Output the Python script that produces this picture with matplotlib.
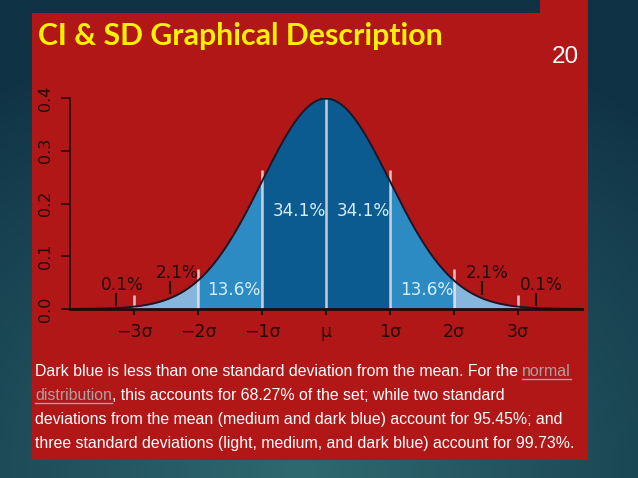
import numpy as np
import matplotlib
matplotlib.use('Agg')
import matplotlib.pyplot as plt
from matplotlib.patches import Rectangle
from matplotlib.lines import Line2D

# ---------------- data ----------------
mean = 0.0
sd = 1.0
sigma_ticks = [-3, -2, -1, 0, 1, 2, 3]
sigma_labels = ['−3σ', '−2σ', '−1σ', 'μ', '1σ', '2σ', '3σ']
y_ticks = [0.0, 0.1, 0.2, 0.3, 0.4]
band_edges = [-4, -3, -2, -1, 0, 1, 2, 3, 4]
band_colors = ['#a9cbe6', '#86b6dc', '#2d8bc4', '#0b5a90',
               '#0b5a90', '#2d8bc4', '#86b6dc', '#a9cbe6']
pct_labels = ['0.1%', '2.1%', '13.6%', '34.1%', '34.1%', '13.6%', '2.1%', '0.1%']
pct_x = [-3.19, -2.33, -1.44, -0.41, 0.58, 1.57, 2.52, 3.37]
pct_y = [0.046, 0.068, 0.036, 0.186, 0.186, 0.036, 0.068, 0.046]
pct_light = [False, False, True, True, True, True, False, False]
pointer_x = [-3.28, -2.44, 2.44, 3.28]
pointer_y0 = [0.007, 0.030, 0.028, 0.007]
pointer_y1 = [0.028, 0.052, 0.051, 0.028]

title = 'CI & SD Graphical Description'
slide_no = '20'
body_lines = [
    ['Dark blue is less than one standard deviation from the mean. For the', ('normal', True)],
    [('distribution', True), ', this accounts for 68.27% of the set; while two standard'],
    ['deviations from the mean (medium and dark blue) account for 95.45%; and'],
    ['three standard deviations (light, medium, and dark blue) account for 99.73%.'],
]

def pdf(x):
    return np.exp(-0.5 * ((x - mean) / sd) ** 2) / (sd * np.sqrt(2 * np.pi))

# ---------------- figure ----------------
W, H = 638, 478
fig = plt.figure(figsize=(W / 100, H / 100), dpi=100)
def fx(px): return px / W
def fy(py): return 1 - py / H

RED = '#b11717'
DARK = '#240808'

bg = fig.add_axes([0, 0, 1, 1])
bg.axis('off')
yy, xx = np.mgrid[0:H, 0:W]
d = np.sqrt(((xx - 300) / W) ** 2 * 1.3 + ((yy - 470) / H) ** 2)
t = np.clip(d / 0.95, 0, 1)
c0 = np.array([0x2f, 0x69, 0x70]) / 255
c1 = np.array([0x10, 0x34, 0x46]) / 255
img = c0 * (1 - t)[..., None] + c1 * t[..., None]
bg.imshow(img, extent=[0, 1, 0, 1], aspect='auto', origin='upper')
bg.set_xlim(0, 1); bg.set_ylim(0, 1)
bg.add_patch(Rectangle((fx(32), fy(460)), (588 - 32) / W, (460 - 13) / H,
                       transform=bg.transAxes, color=RED, lw=0))
bg.add_patch(Rectangle((fx(540), fy(14)), (588 - 540) / W, 14 / H,
                       transform=bg.transAxes, color=RED, lw=0))

# ---------------- chart ----------------
ax = fig.add_axes([fx(70), fy(309), (582 - 70) / W, (309 - 98) / H])
ax.set_zorder(2)
ax.patch.set_alpha(0)
ax.set_xlim(-4, 4)
ax.set_ylim(0, 0.4)

for i in range(len(band_edges) - 1):
    xs = np.linspace(band_edges[i], band_edges[i + 1], 120)
    ax.fill_between(xs, 0, pdf(xs), color=band_colors[i], lw=0, zorder=1)

for s in sigma_ticks:
    top = pdf(s) + (0.0 if s == 0 else 0.022)
    ax.plot([s, s], [0, top], color='white', alpha=0.72, lw=1.8,
            solid_capstyle='butt', zorder=2)

xc = np.linspace(-4, 4, 600)
ax.plot(xc, pdf(xc), color='#1c1626', lw=1.4, zorder=3)

for px_, a, b in zip(pointer_x, pointer_y0, pointer_y1):
    ax.plot([px_, px_], [a, b], color=DARK, lw=1.5, zorder=3)

for lab, x_, y_, light in zip(pct_labels, pct_x, pct_y, pct_light):
    ax.text(x_, y_, lab, ha='center', va='center', fontsize=12.2,
            color='#d6ecfa' if light else DARK, family='DejaVu Sans', zorder=4)

for sp in ['top', 'right']:
    ax.spines[sp].set_visible(False)
ax.spines['bottom'].set_color(DARK)
ax.spines['bottom'].set_linewidth(2)
ax.spines['left'].set_color(DARK)
ax.spines['left'].set_linewidth(1.2)
ax.spines['bottom'].set_zorder(5)

ax.set_xticks(sigma_ticks, sigma_labels)
ax.set_yticks(y_ticks, [f'{v:.1f}' for v in y_ticks])
ax.tick_params(axis='x', length=4.3, width=1.4, color=DARK, labelcolor=DARK,
               labelsize=12.5, pad=6)
ax.tick_params(axis='y', length=6.5, width=1.2, color=DARK, labelcolor=DARK,
               labelsize=11.5, pad=6)
for lab in ax.get_yticklabels():
    lab.set_rotation(90)
    lab.set_va('center')
    lab.set_ha('right')

# ---------------- texts ----------------
fig.text(fx(38), fy(45), title, color='#fff200', fontsize=21.8, fontweight='bold',
         family='Lato', va='baseline', ha='left')
fig.text(fx(565), fy(57), slide_no, color='white', fontsize=17.5,
         family='Liberation Sans', ha='center', va='center')

fig.canvas.draw()
r = fig.canvas.get_renderer()
BODY_FS = 11.45
def measure(s):
    tt = fig.text(0, 0, s, fontsize=BODY_FS, family='Liberation Sans')
    w = tt.get_window_extent(renderer=r).width
    tt.remove()
    return w
space_w = measure('a a') - measure('aa')

x0 = 35
base_y = [376, 400, 424, 448]
for parts, by in zip(body_lines, base_y):
    x = x0
    for k, p in enumerate(parts):
        if isinstance(p, tuple):
            s, link = p
        else:
            s, link = p, False
        col = '#a9a2a2' if link else 'white'
        tt = fig.text(fx(x), fy(by), s, fontsize=BODY_FS, family='Liberation Sans',
                      color=col, va='baseline', ha='left')
        w = tt.get_window_extent(renderer=r).width
        if link:
            fig.add_artist(Line2D([fx(x), fx(x + w)], [fy(by + 2.5), fy(by + 2.5)],
                                  color=col, lw=1.0, transform=fig.transFigure))
        x += w
        if k + 1 < len(parts):
            nxt = parts[k + 1]
            nxt_s = nxt[0] if isinstance(nxt, tuple) else nxt
            if not nxt_s.startswith(','):
                x += space_w

fig.savefig('out.png', dpi=100)
